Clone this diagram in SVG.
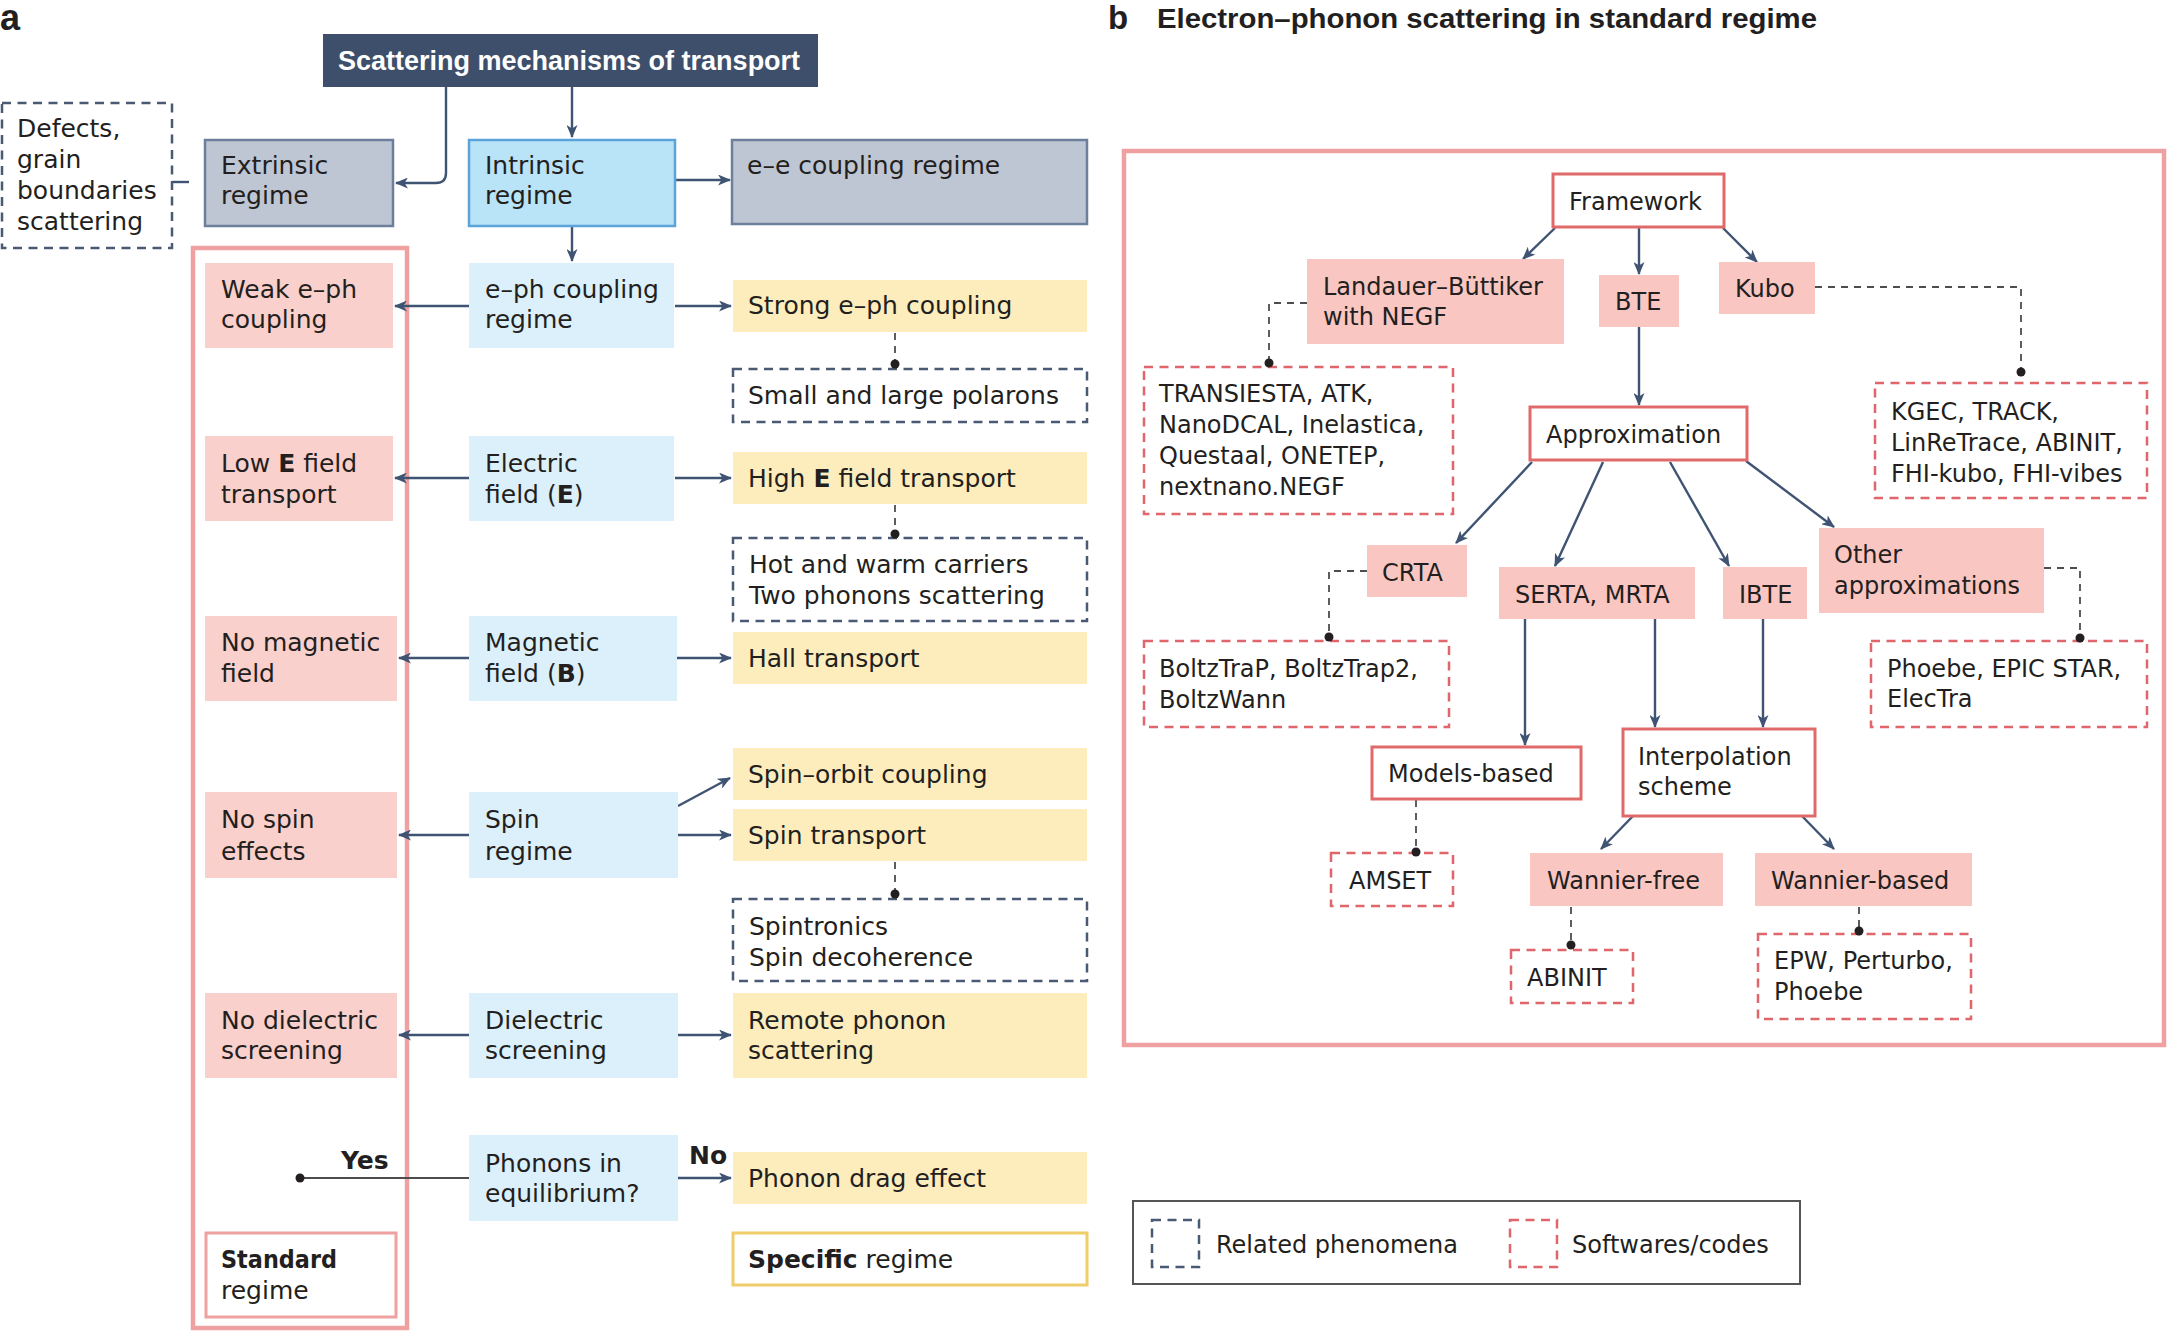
<svg xmlns="http://www.w3.org/2000/svg" width="2169" height="1332" viewBox="0 0 2169 1332">
<style>
text{font-family:"DejaVu Sans","Open Sans",sans-serif;fill:#231f20}
.a{font-size:25px}
.b{font-size:24px}
.bold{font-weight:bold}
.hd{font-family:"Liberation Sans",Arial,sans-serif;font-weight:bold}
.gray{fill:#bfc6d3;stroke:#6c7f9c;stroke-width:2.5}
.intr{fill:#b9e4f8;stroke:#5ba3d9;stroke-width:2.5}
.lb{fill:#dcf0fc}
.pk{fill:#f9d0cc}
.pkb{fill:#f9c6c2}
.yl{fill:#fdedbd}
.dn{fill:none;stroke:#4a5a75;stroke-width:2.5;stroke-dasharray:9 6.5}
.dr{fill:none;stroke:#e0666b;stroke-width:2.5;stroke-dasharray:9 6.5}
.rb{fill:#fff;stroke:#e06a6a;stroke-width:3}
.frame{fill:none;stroke:#efa0a0;stroke-width:4.5}
.arr{fill:none;stroke:#3f5373;stroke-width:2.4;marker-end:url(#ah)}
.ln{fill:none;stroke:#3f5373;stroke-width:2.4}
.dash{fill:none;stroke:#4d4d4d;stroke-width:1.8;stroke-dasharray:7 6}
.dot{fill:#231f20}
</style>
<defs>
<marker id="ah" viewBox="0 0 13 11" refX="12" refY="5.5" markerWidth="13" markerHeight="11" markerUnits="userSpaceOnUse" orient="auto">
<path d="M0,0 L13,5.5 L0,11 L3.5,5.5 Z" fill="#3f5373"/>
</marker>
</defs>
<rect width="2169" height="1332" fill="#fff"/>

<!-- panel labels -->
<text x="0" y="30" class="hd" font-size="36">a</text>
<text x="1108" y="29" class="hd" font-size="33">b</text>
<text x="1157" y="28" class="hd" font-size="28" textLength="660" lengthAdjust="spacingAndGlyphs">Electron–phonon scattering in standard regime</text>

<!-- frames -->
<rect id="standard-frame" x="193" y="248" width="214" height="1080" class="frame"/>
<rect id="panel-b-frame" x="1124" y="151" width="1040" height="894" class="frame"/>

<g id="connectors">
<path d="M446,87 V173 Q446,183 436,183 H396" class="arr"/>
<path d="M572,87 V137" class="arr"/>
<path d="M172,182 H189" class="ln"/>
<path d="M675,180 H730" class="arr"/>
<path d="M572,226 V261" class="arr"/>
<path d="M469,306 H395" class="arr"/>
<path d="M675,306 H731" class="arr"/>
<path d="M895,333 V363" class="dash"/>
<path d="M469,478 H395" class="arr"/>
<path d="M675,478 H731" class="arr"/>
<path d="M895,505 V533" class="dash"/>
<path d="M469,658 H399" class="arr"/>
<path d="M677,658 H731" class="arr"/>
<path d="M469,835 H399" class="arr"/>
<path d="M678,806 L730,778" class="arr"/>
<path d="M678,835 H731" class="arr"/>
<path d="M895,862 V893" class="dash"/>
<path d="M469,1035 H399" class="arr"/>
<path d="M678,1035 H731" class="arr"/>
<path d="M469,1178 H300" fill="none" stroke="#4d4d4d" stroke-width="2"/>
<path d="M678,1178 H731" class="arr"/>

<path d="M1555,228 L1523,259" class="arr"/>
<path d="M1639,228 V274" class="arr"/>
<path d="M1723,228 L1757,262" class="arr"/>
<path d="M1815,287 H2021 V372" class="dash"/>
<path d="M1307,303 H1269 V363" class="dash"/>
<path d="M1639,327 V405" class="arr"/>
<path d="M1532,462 L1456,543" class="arr"/>
<path d="M1603,462 L1555,566" class="arr"/>
<path d="M1670,462 L1729,566" class="arr"/>
<path d="M1746,461 L1834,527" class="arr"/>
<path d="M1367,571 H1329 V637" class="dash"/>
<path d="M2044,568 H2080 V638" class="dash"/>
<path d="M1525,619 V745" class="arr"/>
<path d="M1655,619 V727" class="arr"/>
<path d="M1763,619 V727" class="arr"/>
<path d="M1416,800 V852" class="dash"/>
<path d="M1633,816 L1601,849" class="arr"/>
<path d="M1802,816 L1834,849" class="arr"/>
<path d="M1571,907 V945" class="dash"/>
<path d="M1859,907 V931" class="dash"/>
</g>

<!-- panel a nodes -->
<g id="title">
<rect x="323" y="34" width="495" height="53" fill="#3e4f6b"/>
<text x="338" y="70" class="hd" font-size="27" style="fill:#fff">Scattering mechanisms of transport</text>
</g>
<g id="defects">
<rect x="2" y="103" width="170" height="145" class="dn"/>
<text class="a" x="17" y="137">Defects,<tspan x="17" y="168">grain</tspan><tspan x="17" y="199">boundaries</tspan><tspan x="17" y="230">scattering</tspan></text>
</g>
<g id="extrinsic">
<rect x="205" y="140" width="188" height="86" class="gray"/>
<text class="a" x="221" y="174">Extrinsic<tspan x="221" y="204">regime</tspan></text>
</g>
<g id="intrinsic">
<rect x="469" y="140" width="206" height="86" class="intr"/>
<text class="a" x="485" y="174">Intrinsic<tspan x="485" y="204">regime</tspan></text>
</g>
<g id="ee">
<rect x="732" y="140" width="355" height="84" class="gray"/>
<text class="a" x="747" y="174">e–e coupling regime</text>
</g>
<g id="weak">
<rect x="205" y="263" width="188" height="85" class="pk"/>
<text class="a" x="221" y="298">Weak e–ph<tspan x="221" y="328">coupling</tspan></text>
</g>
<g id="eph">
<rect x="469" y="263" width="205" height="85" class="lb"/>
<text class="a" x="485" y="298">e–ph coupling<tspan x="485" y="328">regime</tspan></text>
</g>
<g id="strong">
<rect x="733" y="280" width="354" height="52" class="yl"/>
<text class="a" x="748" y="314">Strong e–ph coupling</text>
</g>
<g id="polarons">
<rect x="733" y="369" width="354" height="53" class="dn"/>
<text class="a" x="748" y="404">Small and large polarons</text>
</g>
<g id="lowE">
<rect x="205" y="436" width="188" height="85" class="pk"/>
<text class="a" x="221" y="472">Low <tspan class="bold">E</tspan> field<tspan x="221" y="503">transport</tspan></text>
</g>
<g id="electric">
<rect x="469" y="436" width="205" height="85" class="lb"/>
<text class="a" x="485" y="472">Electric<tspan x="485" y="503">field (</tspan><tspan class="bold">E</tspan>)</text>
</g>
<g id="highE">
<rect x="733" y="452" width="354" height="52" class="yl"/>
<text class="a" x="748" y="487">High <tspan class="bold">E</tspan> field transport</text>
</g>
<g id="hot">
<rect x="733" y="538" width="354" height="83" class="dn"/>
<text class="a" x="749" y="573">Hot and warm carriers<tspan x="749" y="604">Two phonons scattering</tspan></text>
</g>
<g id="nomag">
<rect x="205" y="616" width="192" height="85" class="pk"/>
<text class="a" x="221" y="651">No magnetic<tspan x="221" y="682">field</tspan></text>
</g>
<g id="magnetic">
<rect x="469" y="616" width="208" height="85" class="lb"/>
<text class="a" x="485" y="651">Magnetic<tspan x="485" y="682">field (</tspan><tspan class="bold">B</tspan>)</text>
</g>
<g id="hall">
<rect x="733" y="632" width="354" height="52" class="yl"/>
<text class="a" x="748" y="667">Hall transport</text>
</g>
<g id="nospin">
<rect x="205" y="792" width="192" height="86" class="pk"/>
<text class="a" x="221" y="828">No spin<tspan x="221" y="860">effects</tspan></text>
</g>
<g id="spin">
<rect x="469" y="792" width="209" height="86" class="lb"/>
<text class="a" x="485" y="828">Spin<tspan x="485" y="860">regime</tspan></text>
</g>
<g id="soc">
<rect x="733" y="748" width="354" height="52" class="yl"/>
<text class="a" x="748" y="783">Spin–orbit coupling</text>
</g>
<g id="spintransport">
<rect x="733" y="809" width="354" height="52" class="yl"/>
<text class="a" x="748" y="844">Spin transport</text>
</g>
<g id="spintronics">
<rect x="733" y="899" width="354" height="82" class="dn"/>
<text class="a" x="749" y="935">Spintronics<tspan x="749" y="966">Spin decoherence</tspan></text>
</g>
<g id="nodiel">
<rect x="205" y="993" width="192" height="85" class="pk"/>
<text class="a" x="221" y="1029">No dielectric<tspan x="221" y="1059">screening</tspan></text>
</g>
<g id="diel">
<rect x="469" y="993" width="209" height="85" class="lb"/>
<text class="a" x="485" y="1029">Dielectric<tspan x="485" y="1059">screening</tspan></text>
</g>
<g id="remote">
<rect x="733" y="993" width="354" height="85" class="yl"/>
<text class="a" x="748" y="1029">Remote phonon<tspan x="748" y="1059">scattering</tspan></text>
</g>
<g id="phonons">
<rect x="469" y="1135" width="209" height="86" class="lb"/>
<text class="a" x="485" y="1172">Phonons in<tspan x="485" y="1202">equilibrium?</tspan></text>
</g>
<g id="drag">
<rect x="733" y="1152" width="354" height="52" class="yl"/>
<text class="a" x="748" y="1187">Phonon drag effect</text>
</g>
<g id="standard">
<rect x="206" y="1233" width="190" height="84" fill="#fff" stroke="#efa0a0" stroke-width="3"/>
<text class="a" x="221" y="1268"><tspan class="bold" textLength="116" lengthAdjust="spacingAndGlyphs">Standard</tspan><tspan x="221" y="1299">regime</tspan></text>
</g>
<g id="specific">
<rect x="733" y="1233" width="354" height="52" fill="#fff" stroke="#efcd6a" stroke-width="3"/>
<text class="a" x="748" y="1268"><tspan class="bold">Specific</tspan> regime</text>
</g>
<g id="labels-yes-no">
<text class="a bold" x="341" y="1169" font-size="23">Yes</text>
<text class="a bold" x="689" y="1164" font-size="23">No</text>
</g>

<!-- panel b nodes -->
<g id="framework">
<rect x="1553" y="174" width="171" height="53" class="rb"/>
<text class="b" x="1569" y="210">Framework</text>
</g>
<g id="landauer">
<rect x="1307" y="259" width="257" height="85" class="pkb"/>
<text class="b" x="1323" y="295">Landauer–Büttiker<tspan x="1323" y="325">with NEGF</tspan></text>
</g>
<g id="bte">
<rect x="1599" y="275" width="80" height="52" class="pkb"/>
<text class="b" x="1615" y="310">BTE</text>
</g>
<g id="kubo">
<rect x="1719" y="262" width="96" height="52" class="pkb"/>
<text class="b" x="1735" y="297">Kubo</text>
</g>
<g id="transiesta">
<rect x="1144" y="367" width="309" height="147" class="dr"/>
<text class="b" x="1159" y="402">TRANSIESTA, ATK,<tspan x="1159" y="433">NanoDCAL, Inelastica,</tspan><tspan x="1159" y="464">Questaal, ONETEP,</tspan><tspan x="1159" y="495">nextnano.NEGF</tspan></text>
</g>
<g id="kgec">
<rect x="1875" y="383" width="272" height="115" class="dr"/>
<text class="b" x="1891" y="420">KGEC, TRACK,<tspan x="1891" y="451">LinReTrace, ABINIT,</tspan><tspan x="1891" y="482">FHI-kubo, FHI-vibes</tspan></text>
</g>
<g id="approximation">
<rect x="1530" y="407" width="217" height="53" class="rb"/>
<text class="b" x="1546" y="443">Approximation</text>
</g>
<g id="crta">
<rect x="1367" y="545" width="100" height="52" class="pkb"/>
<text class="b" x="1382" y="581">CRTA</text>
</g>
<g id="serta">
<rect x="1499" y="567" width="196" height="52" class="pkb"/>
<text class="b" x="1515" y="603">SERTA, MRTA</text>
</g>
<g id="ibte">
<rect x="1723" y="567" width="84" height="52" class="pkb"/>
<text class="b" x="1739" y="603">IBTE</text>
</g>
<g id="other">
<rect x="1819" y="528" width="225" height="85" class="pkb"/>
<text class="b" x="1834" y="563">Other<tspan x="1834" y="594">approximations</tspan></text>
</g>
<g id="boltztrap">
<rect x="1144" y="641" width="305" height="86" class="dr"/>
<text class="b" x="1159" y="677">BoltzTraP, BoltzTrap2,<tspan x="1159" y="708">BoltzWann</tspan></text>
</g>
<g id="phoebe">
<rect x="1871" y="641" width="276" height="86" class="dr"/>
<text class="b" x="1887" y="677">Phoebe, EPIC STAR,<tspan x="1887" y="707">ElecTra</tspan></text>
</g>
<g id="models">
<rect x="1372" y="747" width="209" height="52" class="rb"/>
<text class="b" x="1388" y="782">Models-based</text>
</g>
<g id="interpolation">
<rect x="1623" y="729" width="192" height="87" class="rb"/>
<text class="b" x="1638" y="765">Interpolation<tspan x="1638" y="795">scheme</tspan></text>
</g>
<g id="amset">
<rect x="1331" y="853" width="122" height="53" class="dr"/>
<text class="b" x="1349" y="889">AMSET</text>
</g>
<g id="wfree">
<rect x="1530" y="853" width="193" height="53" class="pkb"/>
<text class="b" x="1547" y="889">Wannier-free</text>
</g>
<g id="wbased">
<rect x="1755" y="853" width="217" height="53" class="pkb"/>
<text class="b" x="1771" y="889">Wannier-based</text>
</g>
<g id="abinit">
<rect x="1511" y="950" width="122" height="53" class="dr"/>
<text class="b" x="1527" y="986">ABINIT</text>
</g>
<g id="epw">
<rect x="1758" y="934" width="213" height="85" class="dr"/>
<text class="b" x="1774" y="969">EPW, Perturbo,<tspan x="1774" y="1000">Phoebe</tspan></text>
</g>
<g id="legend">
<rect x="1133" y="1201" width="667" height="83" fill="#fff" stroke="#555" stroke-width="2"/>
<rect x="1152" y="1220" width="47" height="47" class="dn"/>
<text class="b" x="1216" y="1253">Related phenomena</text>
<rect x="1510" y="1220" width="47" height="47" class="dr"/>
<text class="b" x="1572" y="1253">Softwares/codes</text>
</g>

<g id="dots">
<circle cx="895" cy="364" r="4.5" class="dot"/>
<circle cx="895" cy="534" r="4.5" class="dot"/>
<circle cx="895" cy="894" r="4.5" class="dot"/>
<circle cx="300" cy="1178" r="4.5" class="dot"/>
<circle cx="2021" cy="372" r="4.5" class="dot"/>
<circle cx="1269" cy="363" r="4.5" class="dot"/>
<circle cx="1329" cy="637" r="4.5" class="dot"/>
<circle cx="2080" cy="638" r="4.5" class="dot"/>
<circle cx="1416" cy="852" r="4.5" class="dot"/>
<circle cx="1571" cy="945" r="4.5" class="dot"/>
<circle cx="1859" cy="931" r="4.5" class="dot"/>
</g>
</svg>
